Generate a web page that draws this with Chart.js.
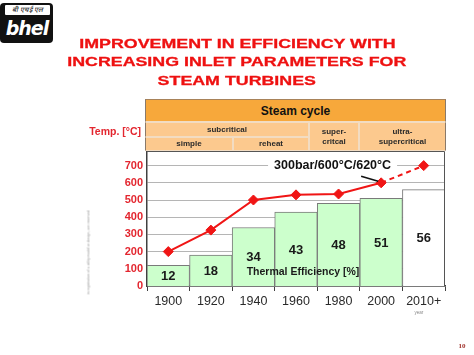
<!DOCTYPE html>
<html><head><meta charset="utf-8">
<script src="https://cdn.jsdelivr.net/npm/chart.js@4"></script>
<style>
html,body{margin:0;padding:0;background:#fff;width:474px;height:355px;overflow:hidden;position:relative;font-family:"Liberation Sans",Arial,sans-serif}
#c{position:absolute;left:0;top:0}
.abs{position:absolute;box-sizing:border-box}
.title{position:absolute;left:0;width:474px;text-align:center;color:#ee1111;font-weight:bold;font-size:13px;line-height:13px;white-space:nowrap}
.title span{display:inline-block;transform:scaleX(1.37);transform-origin:center;-webkit-text-stroke:0.3px #ee1111}
.cell{position:absolute;box-sizing:border-box;border:1px solid #f2dcc2;background:#fcc98e;color:#2a2a2a;font-weight:bold;font-size:8px;display:flex;align-items:center;justify-content:center;text-align:center;line-height:10px}
</style></head><body>
<canvas id="c" width="474" height="355"></canvas>

<!-- logo -->
<div class="abs" style="left:0;top:3px;width:53px;height:40px;background:#111;border-radius:4px"></div>
<div class="abs" style="left:5px;top:5px;width:45px;height:10px;background:#fff;border-radius:1px;font-size:7px;line-height:10px;text-align:center;color:#000;font-style:italic">बी एच ई एल</div>
<div class="abs" style="left:3px;top:17px;width:48px;height:22px;color:#fff;font-weight:bold;font-style:italic;font-size:19px;line-height:22px;text-align:center;letter-spacing:-1px;font-family:'DejaVu Sans'">bhel</div>

<div class="title" style="top:37px"><span>IMPROVEMENT IN EFFICIENCY WITH</span></div>
<div class="title" style="top:55px"><span>INCREASING INLET PARAMETERS FOR</span></div>
<div class="title" style="top:74px"><span>STEAM TURBINES</span></div>

<!-- steam cycle header -->
<div class="cell" style="left:145px;top:99px;width:301px;height:23px;background:#f7a83b;border-color:#a88259 #8a7a6a #f2dcc2 #8a7a6a;font-size:12px;color:#111">Steam cycle</div>
<div class="cell" style="left:145px;top:122px;width:164px;height:15px;border-left-color:#8a7a6a">subcritical</div>
<div class="cell" style="left:145px;top:137px;width:88px;height:14px;border-left-color:#8a7a6a">simple</div>
<div class="cell" style="left:233px;top:137px;width:76px;height:14px">reheat</div>
<div class="cell" style="left:309px;top:122px;width:50px;height:29px">super-<br>critcal</div>
<div class="cell" style="left:359px;top:122px;width:87px;height:29px;border-right-color:#8a7a6a">ultra-<br>supercritical</div>

<div class="abs" style="left:80px;top:125px;width:61px;text-align:right;color:#e3262f;font-weight:bold;font-size:10.5px;line-height:13px">Temp. [°C]</div>

<div class="abs" style="left:89px;top:253px;width:0;height:0">
  <div style="position:absolute;left:-60px;top:-3px;width:120px;text-align:center;transform:rotate(-90deg);font-size:3.5px;line-height:5px;color:#999;white-space:nowrap">in registration of a utility model or design, are reserved</div>
</div>
<div class="abs" style="left:404px;top:310px;width:30px;text-align:center;font-size:4.5px;color:#888">year</div>
<div class="abs" style="left:452px;top:342px;width:20px;text-align:center;font-size:7px;color:#a0302a;font-family:'Liberation Serif',serif;font-weight:bold">10</div>

<script>
const years = ['1900','1920','1940','1960','1980','2000','2010+'];
const efficiency = [12, 18, 34, 43, 48, 51, 56];          // Thermal efficiency [%]
const temperature = [200, 325, 500, 530, 535, 600, 700];  // Temp. [°C]
const annotationText = '300bar/600°C/620°C';
const efficiencyTitle = 'Thermal Efficiency [%]';

const RED = '#f01515';
const barFill = years.map((y, i) => i === years.length - 1 ? '#ffffff' : '#ccffcc');

const overlay = {
  id: 'overlay',
  beforeDatasetsDraw(chart) {
    const ctx = chart.ctx, xs = chart.scales.x, ys = chart.scales.y;
    ctx.save();
    ctx.font = 'bold 12.5px "Liberation Sans"';
    const w = ctx.measureText(annotationText).width;
    const cx = xs.getPixelForValue(4) - 6, cy = ys.getPixelForValue(700);
    ctx.fillStyle = '#fff';
    ctx.fillRect(cx - w / 2 - 6, cy - 7, w + 12, 14);
    ctx.fillStyle = '#111';
    ctx.textAlign = 'center'; ctx.textBaseline = 'middle';
    ctx.fillText(annotationText, cx, cy);
    ctx.restore();
  },
  afterDatasetsDraw(chart) {
    const ctx = chart.ctx, xs = chart.scales.x, ys = chart.scales.y;
    const a = chart.chartArea;
    const barMeta = chart.getDatasetMeta(1);
    ctx.save();
    ctx.fillStyle = '#1a1a1a';
    ctx.textAlign = 'center'; ctx.textBaseline = 'middle';
    ctx.font = 'bold 13px "Liberation Sans"';
    barMeta.data.forEach((el, i) => {
      ctx.fillText(String(efficiency[i]), el.x, (el.y + el.base) / 2 + 1);
    });
    ctx.font = 'bold 10.5px "Liberation Sans"';
    ctx.fillText(efficiencyTitle, xs.getPixelForValue(3) + 7, ys.getPixelForValue(80));
    // arrow to the 2000 point
    const p = chart.getDatasetMeta(0).data[5];
    ctx.strokeStyle = '#111'; ctx.lineWidth = 1.5;
    ctx.beginPath();
    ctx.moveTo(p.x - 20, p.y - 6.5);
    ctx.lineTo(p.x - 3, p.y - 1.5);
    ctx.stroke();
    // plot frame (top and right)
    ctx.strokeStyle = '#555'; ctx.lineWidth = 1;
    ctx.beginPath();
    ctx.moveTo(a.left, a.top + 0.5);
    ctx.lineTo(a.right - 0.5, a.top + 0.5);
    ctx.lineTo(a.right - 0.5, a.bottom);
    ctx.stroke();
    ctx.restore();
  }
};

new Chart(document.getElementById('c'), {
  data: {
    labels: years,
    datasets: [
      {
        type: 'line',
        label: 'Temp. [°C]',
        data: temperature,
        yAxisID: 'y',
        order: 0,
        borderColor: RED,
        backgroundColor: RED,
        borderWidth: 2,
        pointStyle: 'rectRot',
        pointRadius: 5,
        pointBorderWidth: 1,
        tension: 0,
        segment: { borderDash: c => c.p1DataIndex === years.length - 1 ? [5, 4] : undefined }
      },
      {
        type: 'bar',
        label: efficiencyTitle,
        data: efficiency,
        yAxisID: 'y2',
        order: 1,
        backgroundColor: barFill,
        borderColor: '#7a7a7a',
        borderWidth: 1,
        barPercentage: 1,
        categoryPercentage: 1
      }
    ]
  },
  options: {
    responsive: false,
    animation: false,
    events: [],
    layout: { padding: { left: 0, top: 151, right: 29, bottom: 0 } },
    plugins: { legend: { display: false }, tooltip: { enabled: false } },
    scales: {
      x: {
        offset: true,
        grid: { offset: true, drawOnChartArea: false, tickLength: 5, color: '#404040' },
        border: { color: '#404040', width: 1.5 },
        ticks: { color: '#2a2a2a', font: { family: 'Liberation Sans', size: 12.5 }, padding: 3 },
        afterFit(s) { s.height = 69; }
      },
      y: {
        min: 0, max: 785,
        grid: { color: '#b5b5b5', drawTicks: false },
        border: { color: '#404040', width: 1.5 },
        ticks: { stepSize: 100, includeBounds: false, color: '#e3262f',
                 font: { family: 'Liberation Sans', weight: 'bold', size: 11 }, padding: 4 },
        afterFit(s) { s.width = 147; }
      },
      y2: { min: 0, max: 78.5, display: false }
    }
  },
  plugins: [overlay]
});
</script>
</body></html>
